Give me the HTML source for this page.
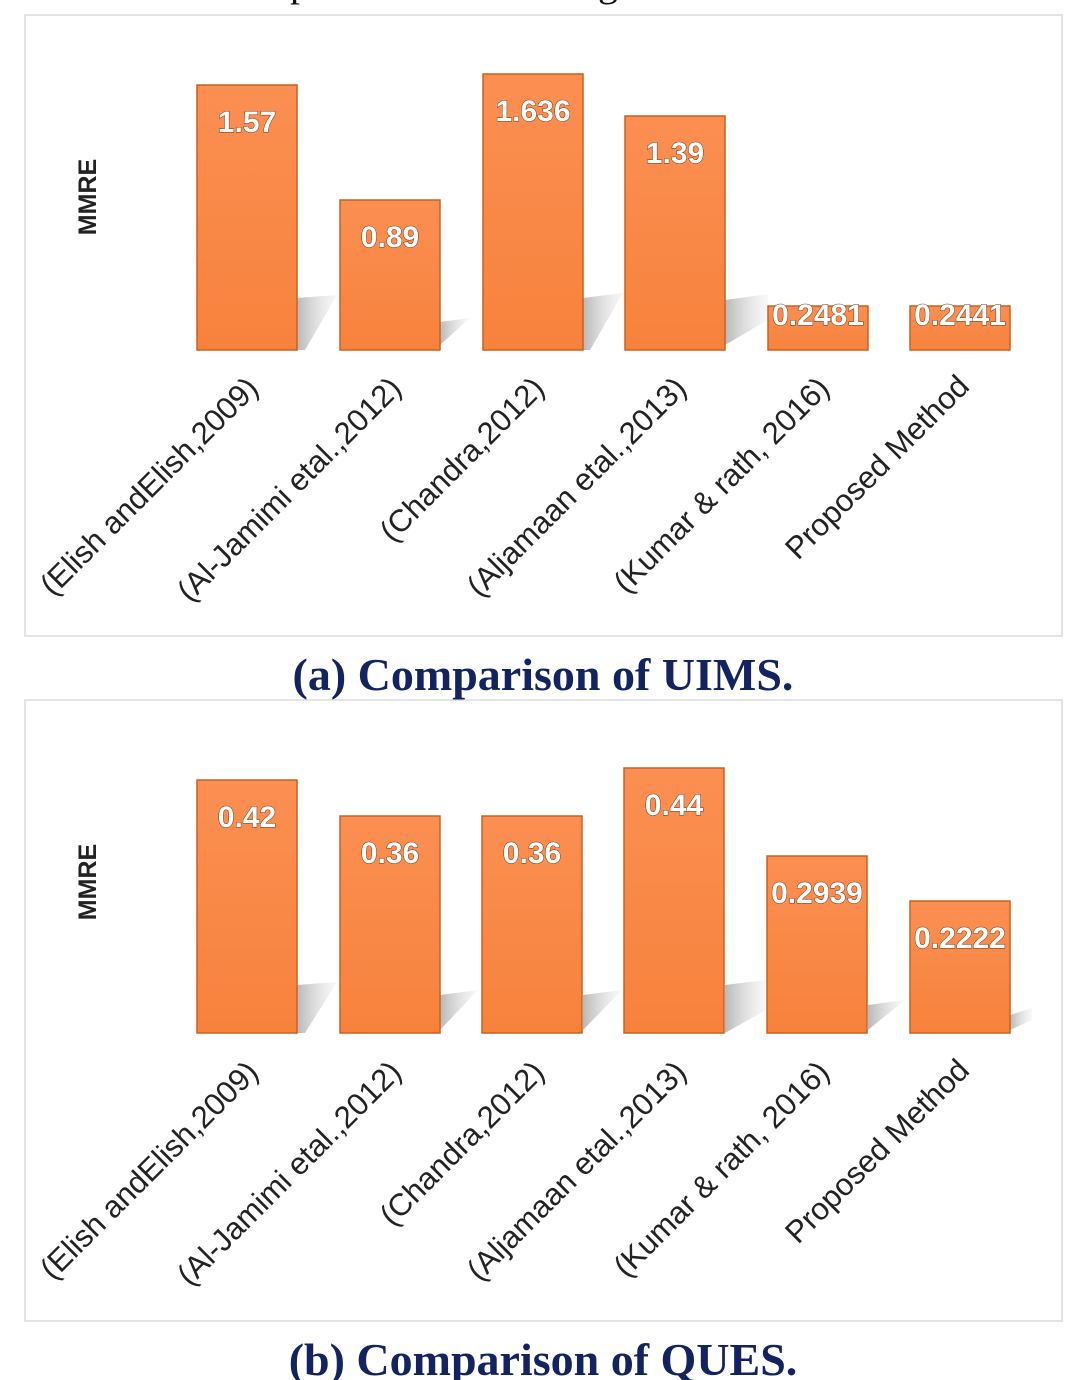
<!DOCTYPE html>
<html><head><meta charset="utf-8"><style>
html,body{margin:0;padding:0;background:#fff;}
svg{display:block;}
</style></head><body>
<svg width="1076" height="1380" viewBox="0 0 1076 1380" xmlns="http://www.w3.org/2000/svg">
<defs>
<linearGradient id="bar" x1="0" y1="0" x2="0" y2="1">
<stop offset="0" stop-color="#fb8f52"/><stop offset="1" stop-color="#f7823c"/>
</linearGradient>
<linearGradient id="sh" x1="0" y1="0" x2="1" y2="0">
<stop offset="0" stop-color="#b8b8b8"/><stop offset="1" stop-color="#e8e8e8" stop-opacity="0.3"/>
</linearGradient>
</defs>
<text x="290" y="-4" font-family="Liberation Serif, serif" font-size="40" fill="#111">p</text>
<text x="598" y="-4" font-family="Liberation Serif, serif" font-size="40" fill="#111">g</text>

<g font-family="Liberation Sans, sans-serif">
<rect x="25" y="15" width="1037" height="621" fill="#fff" stroke="#e4e4e4" stroke-width="2"/>
<text transform="translate(96,197) rotate(-90)" text-anchor="middle" font-size="25" font-weight="bold" fill="#222">MMRE</text>
<g fill="url(#sh)">
<polygon points="297,350 297,298 337,295 305,350"/>
<polygon points="440,345 440,322 470,318"/>
<polygon points="583,350 583,298 623,293 590,350"/>
<polygon points="725,345 725,300 768,294 768,320"/>
</g>
<g fill="url(#bar)" stroke="#c8621e" stroke-width="1.5">
<rect x="197" y="85" width="100" height="265"/>
<rect x="340" y="200" width="100" height="150"/>
<rect x="483" y="74" width="100" height="276"/>
<rect x="625" y="116" width="100" height="234"/>
<rect x="768" y="306" width="100" height="44"/>
<rect x="910" y="306" width="100" height="44"/>
</g>
<g font-size="30" font-weight="bold" fill="#fff" stroke="#6a3a1a" stroke-width="1" text-anchor="middle" paint-order="stroke">
<text x="247" y="132">1.57</text>
<text x="390" y="247">0.89</text>
<text x="533" y="121">1.636</text>
<text x="675" y="163">1.39</text>
<text x="818" y="325">0.2481</text>
<text x="960" y="325">0.2441</text>
</g>
<g font-size="31" fill="#222" text-anchor="end">
<text transform="translate(260,390) rotate(-45)">(Elish andElish,2009)</text>
<text transform="translate(403,390) rotate(-45)">(Al-Jamimi etal.,2012)</text>
<text transform="translate(546,390) rotate(-45)">(Chandra,2012)</text>
<text transform="translate(688,390) rotate(-45)">(Aljamaan etal.,2013)</text>
<text transform="translate(831,390) rotate(-45)">(Kumar &amp; rath, 2016)</text>
<text transform="translate(971,388) rotate(-45)">Proposed Method</text>
</g>

<rect x="25" y="700" width="1037" height="621" fill="#fff" stroke="#e4e4e4" stroke-width="2"/>
<text transform="translate(96,882) rotate(-90)" text-anchor="middle" font-size="25" font-weight="bold" fill="#222">MMRE</text>
<g fill="url(#sh)">
<polygon points="297,1033 297,985 337,982 305,1033"/>
<polygon points="440,1030 440,995 478,990"/>
<polygon points="583,1030 583,995 622,990"/>
<polygon points="725,1033 725,985 766,980 766,1010"/>
<polygon points="868,1030 868,1005 905,1000"/>
<polygon points="1010,1030 1010,1015 1032,1008 1032,1020"/>
</g>
<g fill="url(#bar)" stroke="#c8621e" stroke-width="1.5">
<rect x="197" y="780" width="100" height="253"/>
<rect x="340" y="816" width="100" height="217"/>
<rect x="482" y="816" width="100" height="217"/>
<rect x="624" y="768" width="100" height="265"/>
<rect x="767" y="856" width="100" height="177"/>
<rect x="910" y="901" width="100" height="132"/>
</g>
<g font-size="30" font-weight="bold" fill="#fff" stroke="#6a3a1a" stroke-width="1" text-anchor="middle" paint-order="stroke">
<text x="247" y="827">0.42</text>
<text x="390" y="863">0.36</text>
<text x="532" y="863">0.36</text>
<text x="674" y="815">0.44</text>
<text x="817" y="903">0.2939</text>
<text x="960" y="948">0.2222</text>
</g>
<g font-size="31" fill="#222" text-anchor="end">
<text transform="translate(260,1074) rotate(-45)">(Elish andElish,2009)</text>
<text transform="translate(403,1074) rotate(-45)">(Al-Jamimi etal.,2012)</text>
<text transform="translate(546,1074) rotate(-45)">(Chandra,2012)</text>
<text transform="translate(688,1074) rotate(-45)">(Aljamaan etal.,2013)</text>
<text transform="translate(831,1074) rotate(-45)">(Kumar &amp; rath, 2016)</text>
<text transform="translate(971,1072) rotate(-45)">Proposed Method</text>
</g>
</g>

<g font-family="Liberation Serif, serif" font-weight="bold" font-size="46" fill="#13235f" text-anchor="middle">
<text x="543" y="690">(a) Comparison of UIMS.</text>
<text x="543" y="1375">(b) Comparison of QUES.</text>
</g>
</svg>
</body></html>
